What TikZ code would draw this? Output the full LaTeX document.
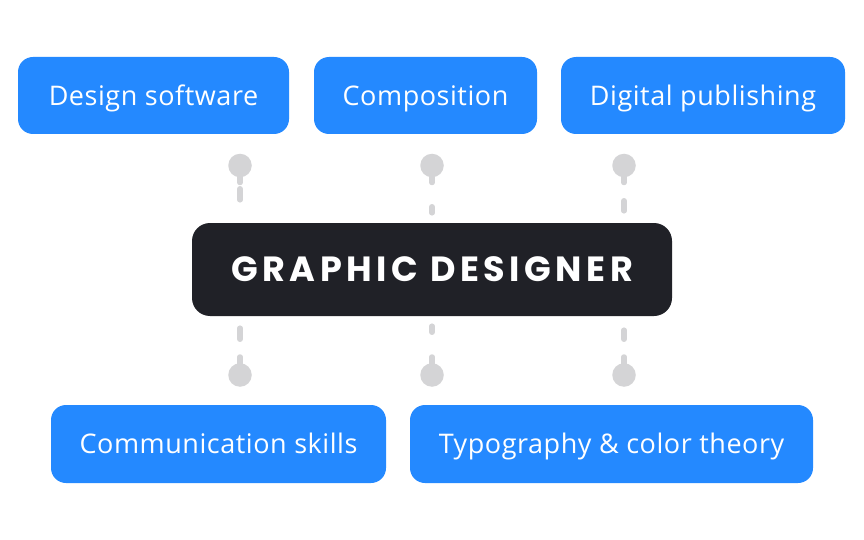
\documentclass[tikz,border=0pt]{standalone}
\usepackage{fontspec}
\setmainfont{Open Sans}
\newfontfamily\titlefont{Poppins}
\definecolor{skillblue}{RGB}{36,137,255}
\definecolor{darkbox}{RGB}{32,33,39}
\definecolor{dotgray}{RGB}{212,212,214}
\begin{document}
\begin{tikzpicture}[x=1pt,y=-1pt,
  skill/.style={fill=skillblue,rounded corners=15pt,inner sep=0pt,text=white,
    font=\fontsize{27}{30}\selectfont\addfontfeature{LetterSpace=2},
    text height=19.3pt,text depth=0pt},
  centerbox/.style={fill=darkbox,rounded corners=18pt,inner sep=0pt,text=white,
    font=\titlefont\fontsize{35}{38}\bfseries\selectfont,
    text height=24.5pt,text depth=0pt},
  dotnode/.style={circle,fill=dotgray,minimum size=23.5pt,inner sep=0pt},
  link/.style={draw=dotgray,line width=5.5pt,line cap=round}]
\useasboundingbox (0,0) rectangle (864,540);
\fill[white] (0,0) rectangle (864,540);
% boxes
\node[skill,minimum width=271pt,minimum height=77pt] (ds) at (153.5,95.5) {Design software};
\node[skill,minimum width=223pt,minimum height=77pt] (comp) at (425.5,95.5) {Composition};
\node[skill,minimum width=284pt,minimum height=77pt] (dp) at (703,95.5) {Digital publishing};
\node[centerbox,minimum width=480pt,minimum height=93pt] (gd) at (432,269.5) {\addfontfeature{LetterSpace=13}GRAPHIC DESIGNER};
\node[skill,minimum width=335pt,minimum height=78pt] (cs) at (218.5,444) {Communication skills};
\node[skill,minimum width=403pt,minimum height=78pt] (ty) at (611.5,444) {Typography \& color theory};
% dots
\node[dotnode] (t1) at (240,165.5) {};
\node[dotnode] (t2) at (432,165.5) {};
\node[dotnode] (t3) at (624,165.5) {};
\node[dotnode] (b1) at (240,375) {};
\node[dotnode] (b2) at (432,375) {};
\node[dotnode] (b3) at (624,375) {};
% connectors (stem + dash)
\draw[link] (t1.center) -- ++(0,17);
\draw[link] (gd.north -| t1) ++(0,-23) -- ++(0,-11);
\draw[link] (t2.center) -- ++(0,17);
\draw[link] (gd.north -| t2) ++(0,-10) -- ++(0,-6);
\draw[link] (t3.center) -- ++(0,17);
\draw[link] (gd.north -| t3) ++(0,-12) -- ++(0,-10);
\draw[link] (b1.center) -- ++(0,-18);
\draw[link] (gd.south -| b1) ++(0,12) -- ++(0,11);
\draw[link] (b2.center) -- ++(0,-18);
\draw[link] (gd.south -| b2) ++(0,10) -- ++(0,6);
\draw[link] (b3.center) -- ++(0,-18);
\draw[link] (gd.south -| b3) ++(0,14) -- ++(0,9);
\end{tikzpicture}
\end{document}
